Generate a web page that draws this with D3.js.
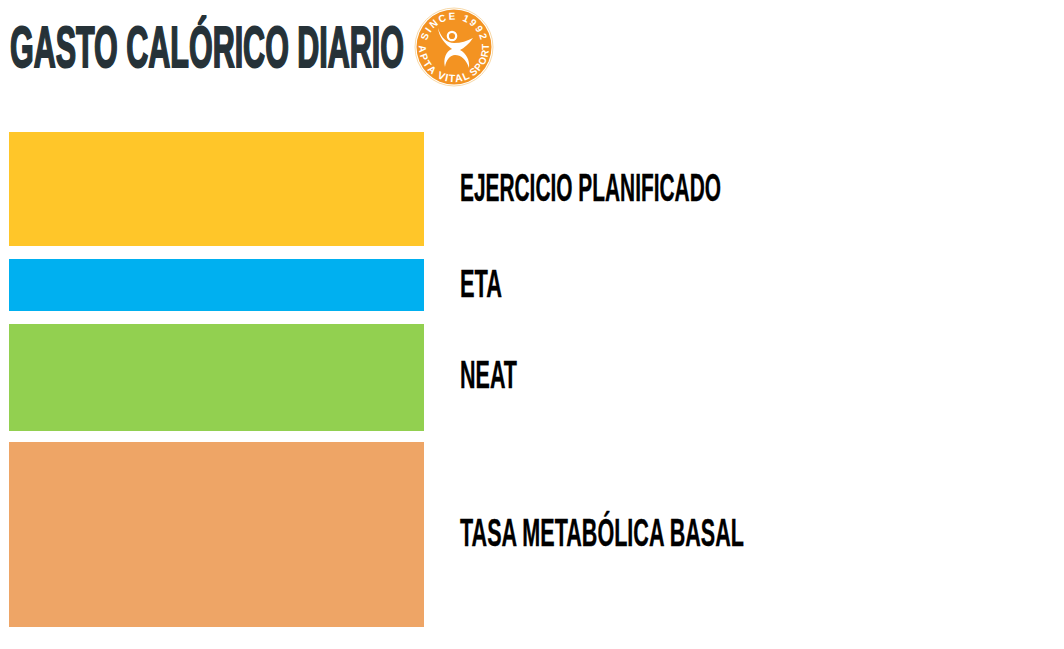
<!DOCTYPE html>
<html><head><meta charset="utf-8">
<script src="https://cdn.jsdelivr.net/npm/d3@7"></script>
<style>
html,body{margin:0;padding:0;background:#fff;overflow:hidden}
svg{display:block}
text{font-family:"Liberation Sans Narrow","Liberation Sans",sans-serif;font-weight:700}
</style></head><body>
<svg id="c" width="1064" height="649"></svg>
<script>
const categories=["EJERCICIO PLANIFICADO","ETA","NEAT","TASA METABÓLICA BASAL"];
const values=[570,260,535,925];
const gaps=[65,65,55,0];
const colors=["#FFC629","#00B0F0","#92D050","#EEA566"];
const labelWidths=[261,42,57,284];
const title="GASTO CALÓRICO DIARIO";

const svg=d3.select("#c");
let acc=0;
const rows=categories.map((c,i)=>{const r={c,v:values[i],y0:acc,y1:acc+values[i],col:colors[i],lw:labelWidths[i]};acc+=values[i]+gaps[i];return r;});
const y=d3.scaleLinear().domain([0,acc]).range([132,627]);

svg.selectAll("rect.bar").data(rows).join("rect").attr("class","bar")
  .attr("x",9).attr("width",415)
  .attr("y",d=>y(d.y0)).attr("height",d=>y(d.y1)-y(d.y0))
  .attr("fill",d=>d.col);

svg.selectAll("text.lab").data(rows).join("text").attr("class","lab")
  .attr("x",460).attr("y",(d,i)=>(y(d.y0)+y(d.y1))/2+[11.5,12,10,11][i])
  .attr("font-size",39).attr("fill","#000")
  .attr("stroke","#000").attr("stroke-width",0.4)
  .attr("textLength",d=>d.lw).attr("lengthAdjust","spacingAndGlyphs")
  .text(d=>d.c);

svg.append("text").attr("x",10).attr("y",67).attr("font-size",57)
  .attr("fill","#263238").attr("stroke","#263238").attr("stroke-width",2)
  .attr("textLength",394).attr("lengthAdjust","spacingAndGlyphs").text(title);

// Logo
const logo=svg.append("g").attr("transform","translate(454,47)");
logo.append("circle").attr("r",39).attr("fill","#fff").attr("stroke","#F8D9A8").attr("stroke-width",1);
logo.append("circle").attr("r",37.5).attr("fill","#F39322");
const defs=svg.append("defs");
const pt=(r,a)=>{const t=a*Math.PI/180;return [r*Math.sin(t),-r*Math.cos(t)];};
function arcText(id,str,r,a0,a1,size,spacing,weight){
  const p0=pt(r,a0),p1=pt(r,a1),sweep=a1>a0?1:0,large=Math.abs(a1-a0)>180?1:0;
  defs.append("path").attr("id",id).attr("d",`M${p0[0]},${p0[1]}A${r},${r} 0 ${large} ${sweep} ${p1[0]},${p1[1]}`);
  logo.append("text").attr("font-size",size).attr("fill","#fff").attr("font-weight",weight).attr("letter-spacing",spacing)
   .append("textPath").attr("href","#"+id).attr("startOffset","50%").attr("text-anchor","middle").text(str);
}
arcText("arcTop","SINCE 1992",27.5,-80,82,10,1.9,400);
arcText("arcA","APTA",35,-76,-157,10,2.2,400);
arcText("arcV","VITAL",35,-145,-215,10.5,1.2,700);
arcText("arcS","SPORT",35,-205,-285,10,.9,400);
logo.append("circle").attr("cx",-2).attr("cy",-11).attr("r",4.2).attr("fill","none").attr("stroke","#fff").attr("stroke-width",2.2);
logo.append("path").attr("fill","#fff").attr("d","M-16,-19C-13,-9 -7,-4 0,-4C7,-4 13,-6 19,-9C15,-3 10,1 6,3C12,6 16,13 15,21C12,12 7,8 1,8C-4,8 -8,13 -9,20C-11,12 -8,4 -2,2C-9,-3 -15,-10 -16,-19Z");
</script></body></html>
